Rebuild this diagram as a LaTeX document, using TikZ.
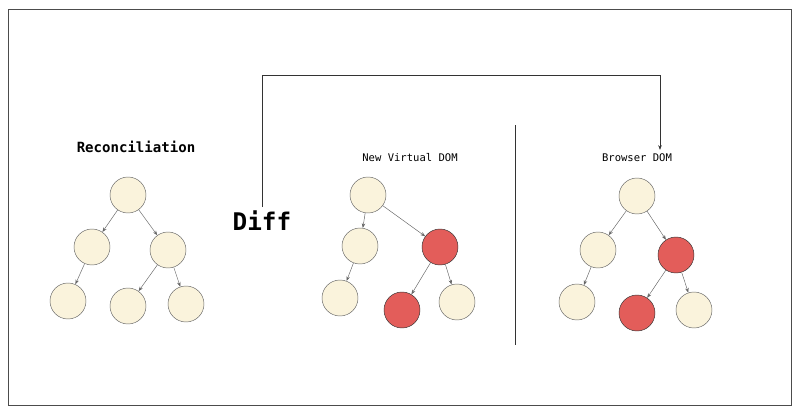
\documentclass[tikz,border=0pt]{standalone}
\usepackage{fontspec}
\setmonofont{DejaVu Sans Mono}
\usetikzlibrary{arrows.meta}
\definecolor{cream}{HTML}{FAF3DC}
\definecolor{hot}{HTML}{E35D5A}
\begin{document}
\begin{tikzpicture}[
    x=0.03cm, y=-0.03cm,
    font=\ttfamily,
    >={Stealth[length=4pt]},
    % Styles
    vnode/.style={% For a tree node
        circle,
        draw=black!60,
        fill=cream,
        minimum size=1.08cm,
        inner sep=0pt,
        },
    changed/.style={% For a changed node
        vnode,
        draw=black!80,
        fill=hot,
        },
    edge/.style={% Tree edges
        ->,
        draw=black!60,
        },
    ]
    \useasboundingbox (0,0) rectangle (800,412);
    \draw[black!70] (8,9) rectangle (791,405);

    % Reconciliation tree
    \node[font=\ttfamily\bfseries\large] (t1) at (136,147) {Reconciliation};
    \node[vnode] (a0) at (128,195) {};
    \node[vnode] (a1) at (92,247) {};
    \node[vnode] (a2) at (168,250) {};
    \node[vnode] (a3) at (68,301) {};
    \node[vnode] (a4) at (128,306) {};
    \node[vnode] (a5) at (186,304) {};
    \draw[edge] (a0) -- (a1);
    \draw[edge] (a0) -- (a2);
    \draw[edge] (a1) -- (a3);
    \draw[edge] (a2) -- (a4);
    \draw[edge] (a2) -- (a5);

    % New Virtual DOM tree
    \node[font=\ttfamily\small] (t2) at (410,158) {New Virtual DOM};
    \node[vnode] (b0) at (368,195) {};
    \node[vnode] (b1) at (360,246) {};
    \node[changed] (b2) at (440,247) {};
    \node[vnode] (b3) at (340,298) {};
    \node[changed] (b4) at (402,310) {};
    \node[vnode] (b5) at (457,302) {};
    \draw[edge] (b0) -- (b1);
    \draw[edge] (b0) -- (b2);
    \draw[edge] (b1) -- (b3);
    \draw[edge] (b2) -- (b4);
    \draw[edge] (b2) -- (b5);

    % Browser DOM tree
    \node[font=\ttfamily\small] (t3) at (637,158) {Browser DOM};
    \node[vnode] (c0) at (637,196) {};
    \node[vnode] (c1) at (598,250) {};
    \node[changed] (c2) at (676,255) {};
    \node[vnode] (c3) at (577,302) {};
    \node[changed] (c4) at (637,313) {};
    \node[vnode] (c5) at (694,310) {};
    \draw[edge] (c0) -- (c1);
    \draw[edge] (c0) -- (c2);
    \draw[edge] (c1) -- (c3);
    \draw[edge] (c2) -- (c4);
    \draw[edge] (c2) -- (c5);

    % Divider and diff path
    \coordinate (dtop) at (515,125);
    \coordinate (dbot) at (515,345);
    \draw[black!80] (dtop) -- (dbot);
    \node[font=\ttfamily\bfseries\huge, anchor=north] (diff) at (262,207) {Diff};
    \coordinate (bend) at (660,75);
    \draw[->, black!80] (diff.north) -- (diff.north |- bend) -- (bend) -- (t3.north -| bend);
\end{tikzpicture}
\end{document}
